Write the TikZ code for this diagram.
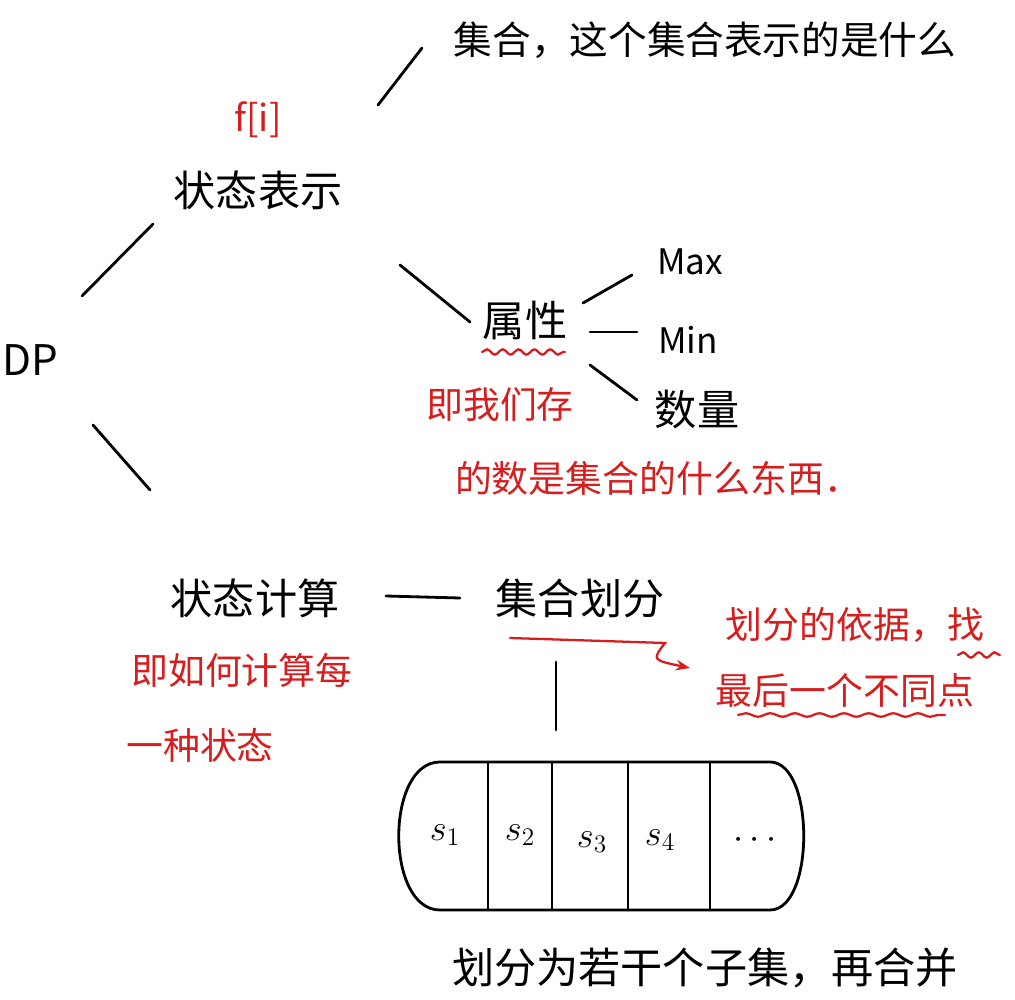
\documentclass[tikz,border=0pt]{standalone}
\usepackage{fontspec}
\setmainfont{Noto Sans CJK SC}
\usetikzlibrary{decorations.pathmorphing,arrows.meta}
\definecolor{hred}{RGB}{215,30,30}
\tikzset{
  blk/.style={font=\fontsize{24}{28}\selectfont, inner sep=1pt},
  red/.style={font=\fontsize{21}{25}\selectfont, text=hred, inner sep=1pt},
  ln/.style={line width=1.6pt, line cap=round},
  rl/.style={hred, line width=1.3pt, line cap=round},
  wav/.style={rl, decorate, decoration={snake, amplitude=1.5pt, segment length=9pt}}
}
\begin{document}
\begin{tikzpicture}[x=0.02cm,y=-0.02cm]
\useasboundingbox (0,0) rectangle (1015,1000);
\node[blk] (dp) at (30,360) {DP};
\node[red] (fi) at (258,120) {f[i]};
\node[blk] (zt) at (258,190) {状态表示};
\node[blk, font=\fontsize{22}{26}\selectfont] (jh) at (705,40) {集合，这个集合表示的是什么};
\node[blk] (sx) at (525,320) {属性};
\node[blk, font=\fontsize{20}{24}\selectfont] (mx) at (690,262) {Max};
\node[blk, font=\fontsize{20}{24}\selectfont] (mn) at (688,340) {Min};
\node[blk] (sl) at (697,410) {数量};
\node[red] (r1) at (500,405) {即我们存};
\node[red] (r2) at (658,478) {的数是集合的什么东西．};
\node[blk] (zj) at (255,598) {状态计算};
\node[blk] (hf) at (580,598) {集合划分};
\node[red] (r3) at (242,670) {即如何计算每};
\node[red] (r4) at (200,745) {一种状态};
\node[red] (r5) at (855,625) {划分的依据，找};
\node[red] (r6) at (845,690) {最后一个不同点};
\node[blk] (bt) at (705,968) {划分为若干个子集，再合并};

\coordinate (a1) at (82,296); \coordinate (a2) at (153,224);
\draw[ln] (a1) -- (a2);
\coordinate (b1) at (93,425); \coordinate (b2) at (150,490);
\draw[ln] (b1) -- (b2);
\coordinate (c1) at (378,105); \coordinate (c2) at (422,48);
\draw[ln] (c1) -- (c2);
\coordinate (d1) at (400,265); \coordinate (d2) at (470,322);
\draw[ln] (d1) -- (d2);
\coordinate (e1) at (583,303); \coordinate (e2) at (632,275);
\draw[ln] (e1) -- (e2);
\coordinate (f1) at (590,332); \coordinate (f2) at (637,332);
\draw[ln] (f1) -- (f2);
\coordinate (g1) at (590,365); \coordinate (g2) at (637,400);
\draw[ln] (g1) -- (g2);
\coordinate (h1) at (386,596); \coordinate (h2) at (460,598);
\draw[ln] (h1) -- (h2);
\coordinate (i1) at (556,662); \coordinate (i2) at (556,730);
\draw[ln] (i1) -- (i2);

% red marks
\coordinate (u1) at (482,352); \coordinate (u2) at (565,352);
\draw[wav] (u1) -- (u2);
\coordinate (v1) at (510,638); \coordinate (v2) at (665,643); \coordinate (v3) at (690,668);
\draw[rl, -{Stealth[length=8pt]}] (v1) -- (v2) .. controls (652,660) .. (v3);
\coordinate (w1) at (958,655); \coordinate (w2) at (1000,655);
\draw[wav] (w1) -- (w2);
\coordinate (x1) at (738,715); \coordinate (x2) at (945,715);
\draw[wav, decoration={snake, amplitude=1pt, segment length=14pt}] (x1) -- (x2);

% box
\draw[ln] (440,762) -- (770,762) .. controls (815,762) and (815,910) .. (770,910)
  -- (440,910) .. controls (385,910) and (385,762) .. (440,762) -- cycle;
\foreach \x in {488,552,628,710} \draw[ln] (\x,762) -- (\x,910);
\node[blk, font=\fontsize{20}{24}\selectfont] (s1) at (445,835) {$s_1$};
\node[blk, font=\fontsize{20}{24}\selectfont] (s2) at (520,835) {$s_2$};
\node[blk, font=\fontsize{20}{24}\selectfont] (s3) at (592,842) {$s_3$};
\node[blk, font=\fontsize{20}{24}\selectfont] (s4) at (660,840) {$s_4$};
\node[blk, font=\fontsize{20}{24}\selectfont] (s5) at (755,840) {$\cdots$};
\end{tikzpicture}
\end{document}
